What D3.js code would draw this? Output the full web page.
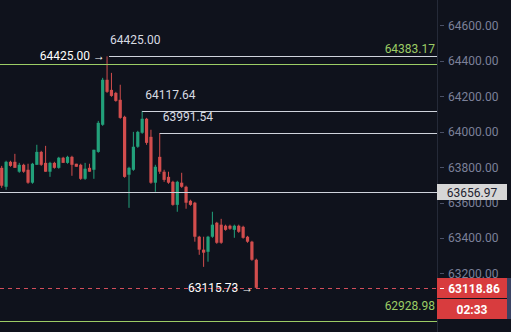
<!DOCTYPE html>
<html><head><meta charset="utf-8">
<script src="https://cdn.jsdelivr.net/npm/d3@7"></script>
<style>
html,body{margin:0;padding:0;background:#0f121c;overflow:hidden}
svg{display:block}
text{font-family:Roboto,"Noto Sans",sans-serif}
</style></head>
<body>
<svg id="c" width="511" height="332"></svg>
<script>
// ---- data ----
const opens  = [63796,63689,63830,63830,63774,63813,63785,63712,63813,63886,63824,63774,63824,63796,63853,63824,63858,63819,63813,63734,63796,63785,63886,64039,64293,64236,64219,64180,64084,63757,63785,63915,63994,64073,63971,63712,63858,63774,63745,63717,63587,63712,63689,63610,63599,63407,63334,63322,63407,63486,63475,63469,63469,63446,63469,63463,63407,63379,63277];
const highs  = [63807,63836,63836,63875,63824,63819,63819,63824,63926,63892,63920,63830,63830,63858,63858,63864,63864,63819,63819,63824,63819,63898,64061,64304,64425,64332,64225,64265,64090,63802,63999,64005,64117.64,64078,64011,63813,63991.54,63785,63774,63723,63723,63768,63695,63616,63604,63412,63407,63412,63548,63491,63508,63475,63475,63475,63475,63469,63412,63384,63283];
const lows   = [63683,63672,63802,63796,63768,63768,63706,63706,63813,63807,63774,63745,63791,63791,63824,63819,63751,63802,63728,63728,63774,63734,63881,64033,64219,64197,64169,64073,63740,63570,63779,63909,63988,63926,63706,63661,63762,63717,63706,63582,63548,63683,63565,63582,63379,63305,63237,63266,63401,63367,63367,63441,63446,63401,63429,63396,63373,63271,63115.73];
const closes = [63695,63830,63807,63796,63813,63774,63712,63819,63886,63813,63774,63824,63796,63853,63824,63858,63813,63802,63734,63791,63774,63898,64050,64293,64225,64202,64174,64078,63745,63796,63915,63999,64073,63937,63712,63802,63774,63728,63712,63587,63717,63689,63599,63587,63407,63334,63317,63407,63475,63373,63373,63446,63452,63469,63435,63401,63379,63277,63118.86];
const axisTicks = [64600,64400,64200,64000,63800,63600,63400,63200];
const highPrice = 64425.00, highIndex = 24;
const lowPrice = 63115.73, lowIndex = 58;
const lastPrice = 63118.86, countdown = "02:33";
const whiteLevels = [{p:64117.64, i:32},{p:63991.54, i:36}];
const greenLevels = [64383.17, 62928.98];
const markLevel = 63656.97;

// ---- layout ----
const W = 511, H = 332, plotR = 437;
const svg = d3.select("#c");
const y = d3.scaleLinear().domain([63200, 64600]).range([273.4, 25.4]);
const x = d3.scaleLinear().domain([0, opens.length - 1]).range([1.7, 256.3]);
const fmt = d3.format(".2f");
const GREEN = "#22a07a", RED = "#d24d4d";

svg.append("rect").attr("width", W).attr("height", H).attr("fill", "#0f121c");

// axis
svg.append("line").attr("x1", plotR + .5).attr("x2", plotR + .5).attr("y1", 0).attr("y2", H).attr("stroke", "#252a38");
const ax = svg.append("g");
axisTicks.forEach(t => {
  ax.append("line").attr("x1", 440).attr("x2", 444).attr("y1", Math.round(y(t)) + .5).attr("y2", Math.round(y(t)) + .5).attr("stroke", "#4a5066");
  ax.append("text").attr("x", 448).attr("y", y(t) + 4.5).attr("fill", "#7b8099").attr("font-size", 12).text(fmt(t));
});

// candles
const g = svg.append("g");
opens.forEach((o, i) => {
  const c = closes[i], up = c >= o, col = up ? GREEN : RED;
  const cx = x(i);
  g.append("line").attr("x1", cx).attr("x2", cx).attr("y1", y(highs[i])).attr("y2", y(lows[i])).attr("stroke", col).attr("stroke-width", 1);
  const top = y(Math.max(o, c)), bot = y(Math.min(o, c));
  g.append("rect").attr("x", cx - 1.6).attr("width", 3.2).attr("y", top).attr("height", Math.max(1, bot - top)).attr("fill", col);
});

// green levels
greenLevels.forEach(p => {
  const yy = Math.round(y(p)) + .5;
  svg.append("line").attr("x1", 0).attr("x2", plotR).attr("y1", yy).attr("y2", yy).attr("stroke", "#9ccc65").attr("stroke-width", 1);
  svg.append("text").attr("x", 435).attr("y", yy - 12).attr("text-anchor", "end").attr("fill", "#9ccc65").attr("font-size", 12).text(fmt(p));
});

// high line & labels
{
  const yy = Math.round(y(highPrice)) + .5;
  svg.append("line").attr("x1", x(highIndex) + 2).attr("x2", plotR).attr("y1", yy).attr("y2", yy).attr("stroke", "#cfd3dc");
  svg.append("text").attr("x", 110).attr("y", yy - 13).attr("fill", "#d8dbe2").attr("font-size", 12).text(fmt(highPrice));
  svg.append("text").attr("x", x(highIndex) - 2).attr("y", yy + 3).attr("text-anchor", "end").attr("fill", "#ffffff").attr("font-size", 12).text(fmt(highPrice) + " \u2192");
}
// white levels
whiteLevels.forEach(d => {
  const yy = Math.round(y(d.p)) + .5;
  svg.append("line").attr("x1", x(d.i)).attr("x2", plotR).attr("y1", yy).attr("y2", yy).attr("stroke", "#cfd3dc");
  svg.append("text").attr("x", x(d.i) + 3).attr("y", yy - 13).attr("fill", "#d8dbe2").attr("font-size", 12).text(fmt(d.p));
});

// mark level with grey axis box
{
  const yy = Math.round(y(markLevel)) + .5;
  svg.append("line").attr("x1", 0).attr("x2", plotR).attr("y1", yy).attr("y2", yy).attr("stroke", "#cfd3dc");
  svg.append("rect").attr("x", plotR).attr("y", yy - 8.5).attr("width", 70).attr("height", 16).attr("fill", "#d6d6d6");
  svg.append("text").attr("x", 472).attr("y", yy + 4.5).attr("text-anchor", "middle").attr("fill", "#1e2230").attr("font-size", 12).text(fmt(markLevel));
}

// last price dashed line & boxes
{
  const yy = Math.round(y(lastPrice)) + .5;
  svg.append("line").attr("x1", 0).attr("x2", plotR).attr("y1", yy).attr("y2", yy).attr("stroke", "#d24d5a").attr("stroke-dasharray", "4,4");
  svg.append("rect").attr("x", plotR).attr("y", yy - 10.5).attr("width", 70).attr("height", 20).attr("fill", "#d83c3e");
  svg.append("rect").attr("x", plotR).attr("y", yy + 10.5).attr("width", 70).attr("height", 20).attr("fill", "#d83c3e");
  svg.append("rect").attr("x", 507).attr("y", yy - 10.5).attr("width", 4).attr("height", 41).attr("fill", "#3a4262");
  svg.append("line").attr("x1", 440).attr("x2", 444).attr("y1", yy).attr("y2", yy).attr("stroke", "#ffffff");
  svg.append("text").attr("x", 474).attr("y", yy + 4.5).attr("text-anchor", "middle").attr("fill", "#ffffff").attr("font-size", 12).attr("font-weight", 700).text(fmt(lastPrice));
  svg.append("text").attr("x", 472).attr("y", yy + 25).attr("text-anchor", "middle").attr("fill", "#ffffff").attr("font-size", 12).attr("font-weight", 700).text(countdown);
}

// low label
{
  const yy = y(lowPrice);
  svg.append("text").attr("x", x(lowIndex) - 3).attr("y", yy + 4).attr("text-anchor", "end").attr("fill", "#ffffff").attr("font-size", 12).text(fmt(lowPrice) + " \u2192");
}
</script>
</body></html>
